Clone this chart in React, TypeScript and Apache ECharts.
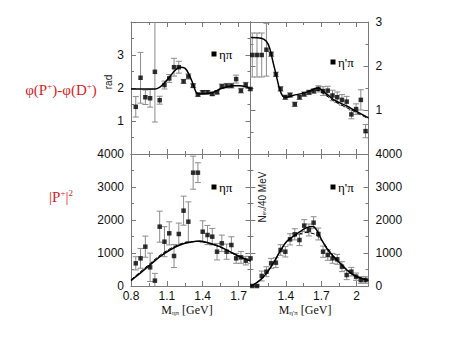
import React, { useEffect, useRef } from "react";
import * as echarts from "echarts";

// bin centres (GeV)
const ETA_PI_X = [0.84, 0.88, 0.92, 0.96, 1.0, 1.04, 1.08, 1.12, 1.16, 1.2, 1.24, 1.28, 1.32, 1.36, 1.4, 1.44, 1.48, 1.52, 1.56, 1.6, 1.64, 1.68, 1.72, 1.76, 1.8];
const ETAP_PI_X = [1.115, 1.155, 1.195, 1.235, 1.275, 1.315, 1.355, 1.395, 1.435, 1.475, 1.515, 1.555, 1.595, 1.635, 1.675, 1.715, 1.755, 1.795, 1.835, 1.875, 1.915, 1.955, 1.995, 2.035, 2.075];

// phase difference phi(P+) - phi(D+) [rad]
const PHASE_ETA_PI = [1.43, 2.31, 1.72, 1.69, 2.49, 1.63, 2.09, 2.29, 2.63, 2.63, 2.2, 2.35, 2.07, 1.8, 1.87, 1.87, 1.82, 1.87, 2.05, 2.07, 2.07, 2.27, 1.92, 2.1, 1.97];
const PHASE_ETA_PI_ERR = [0.31, 0.77, 0.22, 0.27, 1.52, 0.12, 0.12, 0.12, 0.27, 0.18, 0.06, 0.08, 0.06, 0.05, 0.05, 0.05, 0.05, 0.05, 0.07, 0.07, 0.07, 0.12, 0.07, 0.07, 0.05];
const PHASE_ETAP_PI = [2.25, 2.25, 2.25, 2.37, 2.27, 1.81, 1.48, 1.29, 1.34, 1.13, 1.29, 1.36, 1.4, 1.43, 1.48, 1.43, 1.44, 1.33, 1.29, 1.23, 1.19, 0.9, 1.02, 1.23, 0.52];
const PHASE_ETAP_PI_ERR = [0.5, 0.5, 0.5, 0.6, 0.05, 0.05, 0.05, 0.05, 0.05, 0.05, 0.05, 0.05, 0.05, 0.05, 0.07, 0.1, 0.1, 0.12, 0.12, 0.12, 0.12, 0.1, 0.12, 0.23, 0.15];

// intensity |P+|^2  [N_ev / 40 MeV]
const INT_ETA_PI = [687, 838, 1192, 566, 162, 1798, 1343, 1596, 909, 1576, 2283, 1949, 3434, 3434, 1646, 1545, 1495, 1040, 1293, 1040, 1242, 838, 868, 768, 838];
const INT_ETA_PI_ERR = [200, 300, 320, 430, 220, 470, 455, 350, 350, 330, 440, 600, 500, 300, 330, 290, 250, 250, 250, 230, 250, 150, 180, 130, 150];
const INT_ETAP_PI = [0, 0, 303, 433, 687, 707, 1091, 1040, 1414, 1566, 1394, 1830, 1697, 1919, 1576, 1040, 939, 838, 808, 586, 333, 434, 283, 182, 182];
const INT_ETAP_PI_ERR = [30, 30, 150, 150, 150, 150, 160, 160, 170, 170, 170, 180, 180, 180, 180, 170, 160, 150, 150, 150, 140, 130, 110, 100, 100];

// fit curves
const FIT_PH_EP_X = [0.8, 1.0, 1.042, 1.084, 1.126, 1.168, 1.209, 1.251, 1.287, 1.321, 1.349, 1.377, 1.432, 1.488, 1.544, 1.6, 1.655, 1.711, 1.767, 1.8];
const FIT_PH_EP_Y = [1.97, 1.97, 2.03, 2.17, 2.35, 2.53, 2.63, 2.6, 2.4, 2.1, 1.85, 1.82, 1.83, 1.87, 1.97, 2.03, 2.07, 2.07, 2.03, 1.98];
const FIT_PH_EPP_X = [1.105, 1.192, 1.234, 1.262, 1.29, 1.318, 1.346, 1.374, 1.402, 1.46, 1.57, 1.67, 1.74, 1.82, 1.91, 1.99, 2.1];
const FIT_PH_EPP_Y = [2.65, 2.63, 2.56, 2.41, 2.1, 1.79, 1.48, 1.31, 1.29, 1.33, 1.4, 1.5, 1.37, 1.21, 1.1, 0.98, 0.82];
const FIT_PH_EPP2_X = [1.6, 1.66, 1.74, 1.82, 1.91, 1.99, 2.1];
const FIT_PH_EPP2_Y = [1.42, 1.45, 1.33, 1.18, 1.06, 0.95, 0.8];
const FIT_IN_EP_X = [0.8, 0.875, 0.959, 1.042, 1.126, 1.209, 1.293, 1.377, 1.46, 1.544, 1.627, 1.711, 1.8];
const FIT_IN_EP_Y = [162, 384, 636, 889, 1091, 1242, 1323, 1364, 1293, 1192, 1040, 889, 760];
const FIT_IN_EP2_Y = [190, 420, 680, 930, 1130, 1270, 1340, 1350, 1280, 1180, 1030, 880, 750];
const FIT_IN_EPP_X = [1.105, 1.181, 1.237, 1.293, 1.349, 1.404, 1.46, 1.516, 1.572, 1.63, 1.66, 1.7, 1.75, 1.8, 1.85, 1.9, 1.95, 2.0, 2.1];
const FIT_IN_EPP_Y = [0, 180, 390, 690, 1040, 1340, 1500, 1640, 1760, 1800, 1700, 1420, 1120, 900, 720, 540, 390, 280, 170];
const FIT_IN_EPP2_Y = [0, 180, 390, 690, 1040, 1330, 1480, 1580, 1620, 1590, 1540, 1400, 1160, 930, 740, 560, 400, 290, 180];

const X_LABELS_ETA_PI = [0.8, 1.1, 1.4, 1.7];
const X_LABELS_ETAP_PI = [1.4, 1.7, 2];
const PHASE_LABELS_L = [1, 2, 3];
const PHASE_LABELS_R = [1, 2, 3];
const INT_LABELS = [0, 1000, 2000, 3000, 4000];

const AXIS_COL = "#7a7a7a";
const LABEL_FONT = "Liberation Sans, Arial, sans-serif";
const SERIF = "Liberation Serif, Times New Roman, serif";

function pick(list: number[]) {
  return (v: number) => (list.some((t) => Math.abs(t - v) < 1e-6) ? String(Math.round(v * 10) / 10) : "");
}

function axisBase(showLabel: boolean, labels: number[] | null, margin: number) {
  return {
    axisLine: { show: true, onZero: false, lineStyle: { color: AXIS_COL, width: 1 } },
    axisTick: { show: true, inside: true, length: 5, lineStyle: { color: AXIS_COL } },
    minorTick: { show: true, splitNumber: 2, length: 3, lineStyle: { color: AXIS_COL } },
    splitLine: { show: false },
    minorSplitLine: { show: false },
    axisLabel: {
      show: showLabel,
      formatter: labels ? pick(labels) : undefined,
      color: "#111",
      fontSize: 12,
      lineHeight: 12,
      fontFamily: LABEL_FONT,
      margin,
      showMinLabel: true,
      showMaxLabel: true,
    },
  };
}

function xAxis(gridIndex: number, min: number, max: number, position: string, labels: number[] | null) {
  return { type: "value", gridIndex, min, max, interval: 0.3, position, ...axisBase(!!labels, labels, 4) };
}
function yAxis(gridIndex: number, max: number, interval: number, position: string, labels: number[] | null) {
  return { type: "value", gridIndex, min: 0, max, interval, position, ...axisBase(!!labels, labels, 7) };
}

function errRender(params: any, api: any) {
  const x = api.value(0);
  const y = api.value(1);
  const e = api.value(2);
  const t = api.coord([x, y + e]);
  const b = api.coord([x, y - e]);
  const hw = 3;
  const style = { stroke: "#8c8c8c", lineWidth: 1 };
  return {
    type: "group",
    children: [
      { type: "line", shape: { x1: t[0], y1: t[1], x2: b[0], y2: b[1] }, style },
      { type: "line", shape: { x1: t[0] - hw, y1: t[1], x2: t[0] + hw, y2: t[1] }, style },
      { type: "line", shape: { x1: b[0] - hw, y1: b[1], x2: b[0] + hw, y2: b[1] }, style },
    ],
  };
}

function errSeries(idx: number, xs: number[], ys: number[], es: number[]) {
  return {
    type: "custom",
    xAxisIndex: idx,
    yAxisIndex: idx,
    renderItem: errRender,
    data: xs.map((x, i) => [x, ys[i], es[i]]),
    encode: { x: 0, y: 1 },
    clip: true,
    z: 2,
  };
}
function ptSeries(idx: number, xs: number[], ys: number[]) {
  return {
    type: "scatter",
    xAxisIndex: idx,
    yAxisIndex: idx,
    symbol: "rect",
    symbolSize: 4.5,
    itemStyle: { color: "#000" },
    data: xs.map((x, i) => [x, ys[i]]),
    clip: true,
    z: 4,
  };
}
function fitSeries(idx: number, xs: number[], ys: number[], dashed: boolean) {
  return {
    type: "line",
    xAxisIndex: idx,
    yAxisIndex: idx,
    showSymbol: false,
    smooth: 0.35,
    lineStyle: { color: "#000", width: dashed ? 1 : 1.5, type: dashed ? [4, 2] : "solid" },
    data: xs.map((x, i) => [x, ys[i]]),
    clip: true,
    z: 3,
  };
}

function legend(x: number, y: number, label: string) {
  return [
    { type: "rect", shape: { x: x - 2.5, y: y - 2.5, width: 5, height: 5 }, style: { fill: "#000" } },
    {
      type: "text",
      x: x + 5,
      y,
      style: { text: label, font: `13px ${SERIF}`, fill: "#000", verticalAlign: "middle", align: "left" },
    },
  ];
}

export default function App() {
  const ref = useRef<HTMLDivElement>(null);
  useEffect(() => {
    if (!ref.current) return;
    const chart = echarts.init(ref.current, null, { renderer: "svg" });
    const grids = [
      { left: 131, top: 22, width: 119.5, height: 132 },
      { left: 250.5, top: 22, width: 118, height: 132 },
      { left: 131, top: 154, width: 119.5, height: 132 },
      { left: 250.5, top: 154, width: 118, height: 132 },
    ];
    const option: any = {
      animation: false,
      backgroundColor: "#fff",
      grid: grids.map((g) => ({ ...g, containLabel: false })),
      xAxis: [
        xAxis(0, 0.8, 1.8, "bottom", null),
        xAxis(1, 1.1, 2.1, "bottom", null),
        xAxis(2, 0.8, 1.8, "bottom", X_LABELS_ETA_PI),
        xAxis(3, 1.1, 2.1, "bottom", X_LABELS_ETAP_PI),
        xAxis(0, 0.8, 1.8, "top", null),
        xAxis(1, 1.1, 2.1, "top", null),
        xAxis(2, 0.8, 1.8, "top", null),
        xAxis(3, 1.1, 2.1, "top", null),
      ],
      yAxis: [
        yAxis(0, 4, 1, "left", PHASE_LABELS_L),
        yAxis(1, 3, 1, "right", PHASE_LABELS_R),
        yAxis(2, 4000, 1000, "left", INT_LABELS),
        yAxis(3, 4000, 1000, "right", INT_LABELS),
        yAxis(0, 4, 1, "right", null),
        yAxis(1, 3, 1, "left", null),
        yAxis(2, 4000, 1000, "right", null),
        yAxis(3, 4000, 1000, "left", null),
      ],
      series: [
        errSeries(0, ETA_PI_X, PHASE_ETA_PI, PHASE_ETA_PI_ERR),
        ptSeries(0, ETA_PI_X, PHASE_ETA_PI),
        fitSeries(0, FIT_PH_EP_X, FIT_PH_EP_Y, false),
        errSeries(1, ETAP_PI_X, PHASE_ETAP_PI, PHASE_ETAP_PI_ERR),
        ptSeries(1, ETAP_PI_X, PHASE_ETAP_PI),
        fitSeries(1, FIT_PH_EPP_X, FIT_PH_EPP_Y, false),
        fitSeries(1, FIT_PH_EPP2_X, FIT_PH_EPP2_Y, true),
        errSeries(2, ETA_PI_X, INT_ETA_PI, INT_ETA_PI_ERR),
        ptSeries(2, ETA_PI_X, INT_ETA_PI),
        fitSeries(2, FIT_IN_EP_X, FIT_IN_EP_Y, false),
        fitSeries(2, FIT_IN_EP_X, FIT_IN_EP2_Y, true),
        errSeries(3, ETAP_PI_X, INT_ETAP_PI, INT_ETAP_PI_ERR),
        ptSeries(3, ETAP_PI_X, INT_ETAP_PI),
        fitSeries(3, FIT_IN_EPP_X, FIT_IN_EPP_Y, false),
        fitSeries(3, FIT_IN_EPP_X, FIT_IN_EPP2_Y, true),
      ],
      graphic: [
        ...legend(214, 54, "ηπ"),
        ...legend(214, 187, "ηπ"),
        ...legend(333, 62, "η'π"),
        ...legend(333, 187, "η'π"),
        {
          type: "text",
          x: 108.5,
          y: 82,
          rotation: Math.PI / 2,
          style: { text: "rad", font: `10px ${LABEL_FONT}`, fill: "#222", align: "center", verticalAlign: "middle" },
        },
        {
          type: "text",
          x: 262,
          y: 197,
          rotation: Math.PI / 2,
          style: {
            text: "{a|N}{b|ev}{a|/40 MeV}",
            align: "center",
            verticalAlign: "middle",
            rich: {
              a: { fontSize: 10, fontFamily: LABEL_FONT, fill: "#222" },
              b: { fontSize: 6, fontFamily: LABEL_FONT, fill: "#222", verticalAlign: "bottom" },
            },
          },
        },
        {
          type: "text",
          x: 187,
          y: 310,
          style: {
            text: "{a|M}{b|ηπ}{a| [GeV]}",
            align: "center",
            verticalAlign: "middle",
            rich: {
              a: { fontSize: 12, fontFamily: SERIF, fill: "#111", lineHeight: 12 },
              b: { fontSize: 7, fontFamily: SERIF, fill: "#111", verticalAlign: "bottom", lineHeight: 12 },
            },
          },
        },
        {
          type: "text",
          x: 305,
          y: 310,
          style: {
            text: "{a|M}{b|η'π}{a| [GeV]}",
            align: "center",
            verticalAlign: "middle",
            rich: {
              a: { fontSize: 12, fontFamily: SERIF, fill: "#111", lineHeight: 12 },
              b: { fontSize: 7, fontFamily: SERIF, fill: "#111", verticalAlign: "bottom", lineHeight: 12 },
            },
          },
        },
        {
          type: "text",
          x: 61,
          y: 90,
          style: {
            text: "{n|φ(P}{s|+}{n|)-φ(D}{s|+}{n|)}",
            align: "center",
            verticalAlign: "middle",
            rich: {
              n: { fontSize: 15, fontFamily: SERIF, fill: "#d61f1f", lineHeight: 18 },
              s: { fontSize: 9, fontFamily: SERIF, fill: "#d61f1f", verticalAlign: "top", lineHeight: 18 },
            },
          },
        },
        {
          type: "text",
          x: 61,
          y: 197,
          style: {
            text: "{n||P}{s|+}{n||}{s|2}",
            align: "center",
            verticalAlign: "middle",
            rich: {
              n: { fontSize: 15, fontFamily: SERIF, fill: "#d61f1f", lineHeight: 18 },
              s: { fontSize: 9, fontFamily: SERIF, fill: "#d61f1f", verticalAlign: "top", lineHeight: 18 },
            },
          },
        },
      ],
    };
    chart.setOption(option);
    return () => chart.dispose();
  }, []);
  return <div ref={ref} style={{ position: "fixed", left: 0, top: 0, width: 474, height: 355 }} />;
}
